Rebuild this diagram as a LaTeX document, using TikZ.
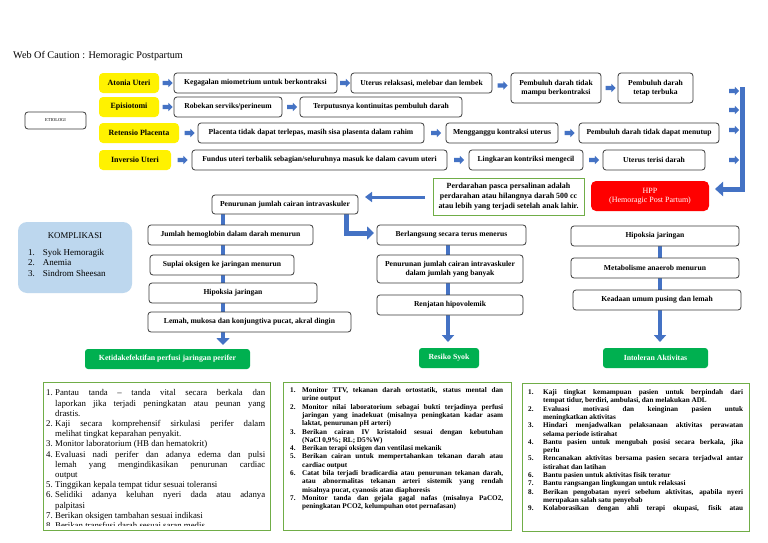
\documentclass[tikz,border=0pt]{standalone}
\usepackage{fontspec}
\setmainfont{Liberation Serif}
\usetikzlibrary{shapes.arrows,arrows.meta,calc}
\definecolor{ablue}{HTML}{4472C4}
\definecolor{gfill}{HTML}{00B050}
\definecolor{gline}{HTML}{70AD47}
\definecolor{kblue}{HTML}{BDD7EE}
\definecolor{bline}{HTML}{3A3A3A}
\newlength\bind
\newcommand{\bitem}[2]{\par\noindent\hangindent=\bind\hangafter=1\hbox to \bind{#1\hfil}#2}
\begin{document}
\begin{tikzpicture}[x=1pt,y=-1pt,
 box/.style={draw=bline, line width=0.8pt, rounded corners=3pt, fill=white, align=center, inner sep=1pt, font=\fontsize{7.6}{9.5}\selectfont\bfseries},
 ybox/.style={fill=yellow, rounded corners=4pt, align=center, inner sep=1pt, font=\fontsize{8}{9}\selectfont\bfseries},
 gbox/.style={fill=gfill, rounded corners=3pt, text=white, inner sep=1pt, font=\fontsize{7.8}{9}\selectfont\bfseries},
 lbox/.style={draw=gline, line width=1pt, fill=white},
 sarr/.style={single arrow, fill=ablue, draw=none, inner sep=2pt, minimum height=10pt, single arrow head extend=2pt},
 conn/.style={draw=ablue, line width=4.5pt},
 ltext/.style={anchor=north west, align=justify, inner sep=0pt},
]
\useasboundingbox[fill=white] (0,0) rectangle (768,543);

% title
\node[anchor=west, inner sep=0pt, font=\fontsize{10.2}{12}\selectfont] (title) at (13,56) {Web Of Caution : Hemoragic Postpartum};

% connectors (behind boxes)
\draw[conn, line width=5pt, -{Triangle[width=14pt,length=8pt]}] (742,87) |- (715,189) coordinate (hppin);
\draw[conn, line width=3pt, -{Triangle[width=10pt,length=7pt]}] (425,197) -- (365,197);
\draw[conn, -{Triangle[width=13pt,length=7pt]}] (223,214) -- (223,345);
\draw[conn, line width=5pt, -{Triangle[width=13pt,length=7pt]}] (346,213) |- (374,233);
\draw[conn, line width=4pt, -{Triangle[width=12pt,length=7pt]}] (448,245) -- (448,342);
\draw[conn, line width=4pt, -{Triangle[width=12pt,length=7pt]}] (660,246) -- (660,342);

% etiologi
\node[box, font=\fontsize{4.5}{5}\selectfont, minimum width=61pt, minimum height=17pt] (etio) at (55.5,120.5) {ETIOLOGI};

% causes
\node[ybox, minimum width=60pt, minimum height=20pt] (ato) at (129,83) {Atonia Uteri};
\node[ybox, minimum width=60pt, minimum height=20pt] (epi) at (129,107) {Episiotomi};
\node[ybox, minimum width=80pt, minimum height=20pt] (ret) at (139,133) {Retensio Placenta};
\node[ybox, minimum width=72pt, minimum height=20pt] (inv) at (135,160) {Inversio Uteri};

% row 1
\node[box, minimum width=163pt, minimum height=20pt] (r1a) at (255.5,83) {Kegagalan miometrium untuk berkontraksi};
\node[box, minimum width=141pt, minimum height=20pt] (r1b) at (421.5,83) {Uterus relaksasi, melebar dan lembek};
\node[box, minimum width=90pt, minimum height=30pt] (r1c) at (556,88) {Pembuluh darah tidak\\mampu berkontraksi};
\node[box, minimum width=75pt, minimum height=30pt] (r1d) at (655.5,88) {Pembuluh darah\\tetap terbuka};
% row 2
\node[box, minimum width=108pt, minimum height=20pt] (r2a) at (228,107) {Robekan serviks/perineum};
\node[box, minimum width=162pt, minimum height=20pt] (r2b) at (381,107) {Terputusnya kontinuitas pembuluh darah};
% row 3
\node[box, minimum width=226pt, minimum height=20pt] (r3a) at (311,133) {Placenta tidak dapat terlepas, masih sisa plasenta dalam rahim};
\node[box, minimum width=112pt, minimum height=20pt] (r3b) at (502,133) {Mengganggu kontraksi uterus};
\node[box, minimum width=140pt, minimum height=20pt] (r3c) at (649,133) {Pembuluh darah tidak dapat menutup};
% row 4
\node[box, minimum width=255pt, minimum height=20pt] (r4a) at (319.5,160) {Fundus uteri terbalik sebagian/seluruhnya masuk ke dalam cavum uteri};
\node[box, minimum width=114pt, minimum height=20pt] (r4b) at (526,160) {Lingkaran kontriksi mengecil};
\node[box, minimum width=102pt, minimum height=20pt] (r4c) at (654,160) {Uterus terisi darah};

% small arrows
\node[sarr] (a11) at ($(ato.east)!.5!(r1a.west)$) {};
\node[sarr] (a12) at ($(r1a.east)!.5!(r1b.west)$) {};
\node[sarr] (a13) at ($(r1b.east)!.5!(r1c.west)$) {};
\node[sarr] (a14) at ($(r1c.east)!.5!(r1d.west)$) {};
\node[sarr] (a21) at ($(epi.east)!.5!(r2a.west)$) {};
\node[sarr] (a22) at ($(r2a.east)!.5!(r2b.west)$) {};
\node[sarr] (a31) at ($(ret.east)!.5!(r3a.west)$) {};
\node[sarr] (a32) at ($(r3a.east)!.5!(r3b.west)$) {};
\node[sarr] (a33) at ($(r3b.east)!.5!(r3c.west)$) {};
\node[sarr] (a41) at ($(inv.east)!.5!(r4a.west)$) {};
\node[sarr] (a42) at ($(r4a.east)!.5!(r4b.west)$) {};
\node[sarr] (a43) at ($(r4b.east)!.5!(r4c.west)$) {};
\node[sarr] (e1) at (733,91) {};
\node[sarr] (e2) at (733,110) {};
\node[sarr] (e3) at (733,130) {};
\node[sarr] (e4) at (733,160) {};

% definition and HPP
\node[draw=gline, line width=0.8pt, fill=white, align=center, inner sep=0pt, minimum width=151pt, minimum height=37pt, font=\fontsize{7.9}{10}\selectfont\bfseries] (def) at (508.5,196.5) {Perdarahan pasca persalinan adalah\\perdarahan atau hilangnya darah 500 cc\\atau lebih yang terjadi setelah anak lahir.};
\node[fill=red, rounded corners=5pt, text=white, align=center, minimum width=118pt, minimum height=30pt, inner sep=1pt, font=\fontsize{8}{9.5}\selectfont] (hpp) at (650,196) {HPP\\(Hemoragic Post Partum)};

\node[box, minimum width=146pt, minimum height=19pt] (pen) at (285,204.5) {Penurunan jumlah cairan intravaskuler};

% left column
\node[box, minimum width=165pt, minimum height=20pt] (l1) at (230.5,235) {Jumlah hemoglobin dalam darah menurun};
\node[box, minimum width=144pt, minimum height=20pt] (l2) at (222,265) {Suplai oksigen ke jaringan menurun};
\node[box, minimum width=168pt, minimum height=20pt] (l3) at (233,293) {Hipoksia jaringan};
\node[box, minimum width=203pt, minimum height=20pt] (l4) at (249.5,322) {Lemah, mukosa dan konjungtiva pucat, akral dingin};
\node[gbox, minimum width=165pt, minimum height=20pt] (g1) at (167.5,359) {Ketidakefektifan perfusi jaringan perifer};

% middle column
\node[box, minimum width=149pt, minimum height=20pt] (m1) at (451.5,235) {Berlangsung secara terus menerus};
\node[box, minimum width=146pt, minimum height=28pt] (m2) at (450,269) {Penurunan jumlah cairan intravaskuler\\dalam jumlah yang banyak};
\node[box, minimum width=146pt, minimum height=20pt] (m3) at (450,305) {Renjatan hipovolemik};
\node[gbox, minimum width=60pt, minimum height=20pt] (g2) at (449,358) {Resiko Syok};

% right column
\node[box, minimum width=168pt, minimum height=20pt] (q1) at (655,236) {Hipoksia jaringan};
\node[box, minimum width=168pt, minimum height=20pt] (q2) at (655,268) {Metabolisme anaerob menurun};
\node[box, minimum width=168pt, minimum height=20pt] (q3) at (657,300) {Keadaan umum pusing dan lemah};
\node[gbox, minimum width=105pt, minimum height=20pt] (g3) at (655.5,358) {Intoleran Aktivitas};

% komplikasi
\node[fill=kblue, rounded corners=9pt, minimum width=114pt, minimum height=71pt] (komp) at (75,257.5) {};
\node[inner sep=0pt, font=\fontsize{8.8}{10}\selectfont] (kt) at (75,236) {KOMPLIKASI};
\node[anchor=north west, inner sep=0pt, align=left, font=\fontsize{9}{11.5}\selectfont] (kl) at (28,247) {\begin{tabular}{@{}l@{\hspace{8pt}}l@{}}1. & Syok Hemoragik\\[-1pt] 2. & Anemia\\[-1pt] 3. & Sindrom Sheesan\end{tabular}};

% bottom boxes
\node[lbox, minimum width=227pt, minimum height=148pt] (b1) at (156.5,456) {};
\node[lbox, minimum width=228pt, minimum height=148pt] (b2) at (397,456) {};
\node[lbox, minimum width=227pt, minimum height=148pt] (b3) at (635.5,457) {};

\begin{scope}
\clip ([shift={(1pt,5pt)}]b1.south west) rectangle ([shift={(-1pt,-1pt)}]b1.north east);
\node[ltext, text width=219pt, font=\fontsize{8.8}{10.2}\selectfont] (t1) at (46,385.5) {\setlength\bind{9pt}\tolerance=9999
\bitem{1.}{Pantau tanda -- tanda vital secara berkala dan\linebreak laporkan jika terjadi peningkatan atau peunan yang\linebreak drastis.}
\bitem{2.}{Kaji secara komprehensif sirkulasi perifer dalam\linebreak melihat tingkat keparahan penyakit.}
\bitem{3.}{Monitor laboratorium (HB dan hematokrit)}
\bitem{4.}{Evaluasi nadi perifer dan adanya edema dan pulsi\linebreak lemah yang mengindikasikan penurunan cardiac\linebreak output}
\bitem{5.}{Tinggikan kepala tempat tidur sesuai toleransi}
\bitem{6.}{Selidiki adanya keluhan nyeri dada atau adanya\linebreak palpitasi}
\bitem{7.}{Berikan oksigen tambahan sesuai indikasi}
\bitem{8.}{Berikan transfusi darah sesuai saran medis}\par};
\end{scope}

\node[ltext, text width=213pt, font=\fontsize{7.2}{8.3}\selectfont\bfseries] (t2) at (290,384) {\setlength\bind{12pt}\tolerance=9999
\bitem{1.}{Monitor TTV, tekanan darah ortostatik, status mental dan\linebreak urine output}
\bitem{2.}{Monitor nilai laboratorium sebagai bukti terjadinya perfusi\linebreak jaringan yang inadekuat (misalnya peningkatan kadar asam\linebreak laktat, penurunan pH arteri)}
\bitem{3.}{Berikan cairan IV kristaloid sesuai dengan kebutuhan\linebreak (NaCl 0,9\%; RL; D5\%W)}
\bitem{4.}{Berikan terapi oksigen dan ventilasi mekanik}
\bitem{5.}{Berikan cairan untuk mempertahankan tekanan darah atau\linebreak cardiac output}
\bitem{6.}{Catat bila terjadi bradicardia atau penurunan tekanan darah,\linebreak atau abnormalitas tekanan arteri sistemik yang rendah\linebreak misalnya pucat, cyanosis atau diaphoresis}
\bitem{7.}{Monitor tanda dan gejala gagal nafas (misalnya PaCO2,\linebreak peningkatan PCO2, kelumpuhan otot pernafasan)}\par};

\node[ltext, text width=215pt, font=\fontsize{7.2}{8.3}\selectfont\bfseries] (t3) at (528,386) {\setlength\bind{15pt}\tolerance=9999
\bitem{1.}{Kaji tingkat kemampuan pasien untuk berpindah dari\linebreak tempat tidur, berdiri, ambulasi, dan melakukan ADL}
\bitem{2.}{Evaluasi motivasi dan keinginan pasien untuk\linebreak meningkatkan aktivitas}
\bitem{3.}{Hindari menjadwalkan pelaksanaan aktivitas perawatan\linebreak selama periode istirahat}
\bitem{4.}{Bantu pasien untuk mengubah posisi secara berkala, jika\linebreak perlu}
\bitem{5.}{Rencanakan aktivitas bersama pasien secara terjadwal antar\linebreak istirahat dan latihan}
\bitem{6.}{Bantu pasien untuk aktivitas fisik teratur}
\bitem{7.}{Bantu rangsangan lingkungan untuk relaksasi}
\bitem{8.}{Berikan pengobatan nyeri sebelum aktivitas, apabila nyeri\linebreak merupakan salah satu penyebab}
\bitem{9.}{Kolaborasikan dengan ahli terapi okupasi, fisik atau\linebreak\mbox{}}\par};
\end{tikzpicture}
\end{document}
